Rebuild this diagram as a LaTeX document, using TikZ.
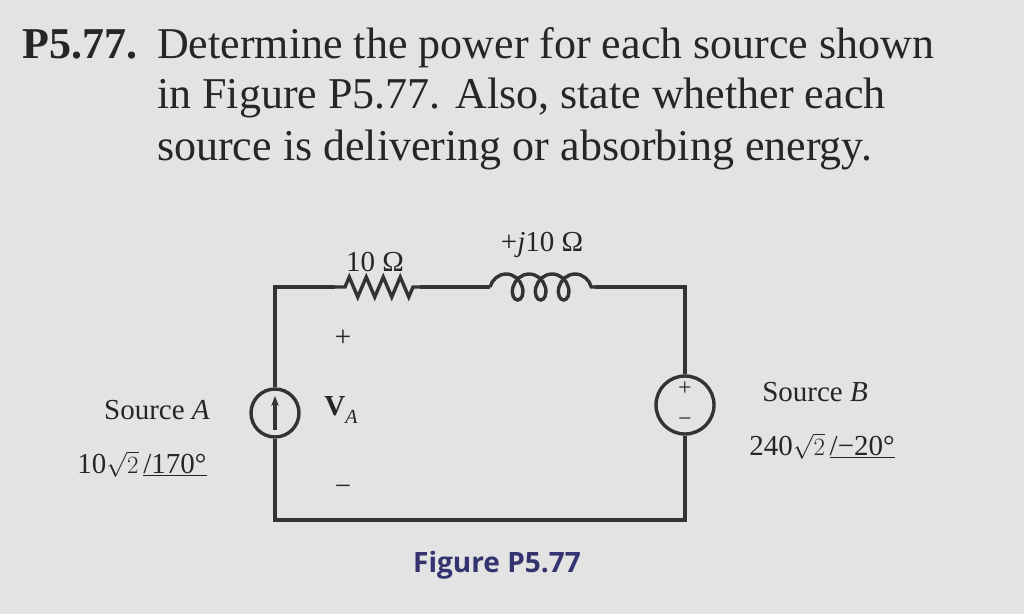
\documentclass[tikz,border=0pt]{standalone}
\usepackage{fontspec}
\setmainfont{Liberation Serif}
\newfontfamily\capfont{Open Sans}
\usetikzlibrary{decorations.pathmorphing,arrows.meta}
\begin{document}
\begin{tikzpicture}[x=1pt,y=-1pt,
  ink/.style={draw=black!80,line width=3.4pt},
  lbl/.style={text=black!85,font=\fontsize{29}{32}\selectfont,inner sep=0pt},
  ttl/.style={text=black!85,font=\fontsize{44}{50}\selectfont,anchor=base west,inner sep=0pt}]
\fill[gray!22!white] (0,0) rectangle (1024,614);
\useasboundingbox (0,0) rectangle (1024,614);
% title
\node[ttl] (t0) at (22,58) {\textbf{P5.77.}};
\node[ttl] (t1) at (157,58) {Determine the power for each source shown};
\node[ttl] (t2) at (157,108) {in Figure P5.77. Also, state whether each};
\node[ttl] (t3) at (157,160) {source is delivering or absorbing energy.};
% circuit coordinates
\coordinate (tl) at (275,287);
\coordinate (r1) at (335,287);
\coordinate (r2) at (420,287);
\coordinate (l1) at (490,287);
\coordinate (l2) at (595,287);
\coordinate (tr) at (685,287);
\coordinate (br) at (685,520);
\coordinate (bl) at (275,520);
\node[circle,ink,minimum size=48pt,inner sep=0pt] (sa) at (275,413) {};
\node[circle,ink,minimum size=58pt,inner sep=0pt] (sb) at (685,405) {};
\draw[ink] (sa.north) -- (tl) -- (r1);
\draw[ink] (r1) -- ++(10,0) decorate[decoration={zigzag,segment length=17pt,amplitude=10pt}]{-- ++(68,0)} -- (r2);
\draw[ink] (r2) -- (l1);
\draw[ink] (l1) decorate[decoration={coil,aspect=0.8,segment length=23pt,amplitude=13pt}]{-- (l2)};
\draw[ink] (l2) -- (tr) -- (sb.north);
\draw[ink] (sb.south) -- (br) -- (bl) -- (sa.south);
\draw[ink,-{Stealth[length=10pt]}] (275,430) -- (275,396);
\node[lbl,font=\fontsize{24}{26}\selectfont] (bp) at (685,389) {+};
\node[lbl,font=\fontsize{24}{26}\selectfont] (bm) at (685,422) {\textminus};
% labels
\node[lbl] (rl) at (375,262) {10 Ω};
\node[lbl] (ll) at (542,245) {+\textit{j}10 Ω};
\node[lbl] (vp) at (343,338) {+};
\node[lbl] (va) at (341,410) {\textbf{V}\raisebox{-0.25em}{\fontsize{20}{22}\selectfont\textit{A}}};
\node[lbl] (vm) at (343,490) {\textminus};
\node[lbl] (sal) at (157,410) {Source \textit{A}};
\node[lbl] (sav) at (142,464) {10$\sqrt{2}$\,\underline{/170°}};
\node[lbl] (sbl) at (815,392) {Source \textit{B}};
\node[lbl] (sbv) at (822,446) {240$\sqrt{2}$\,\underline{/\textminus20°}};
\node[text=black!70!blue!80,font=\capfont\fontsize{28}{30}\selectfont\bfseries,inner sep=0pt] (fig) at (497,565) {Figure P5.77};
\end{tikzpicture}
\end{document}
